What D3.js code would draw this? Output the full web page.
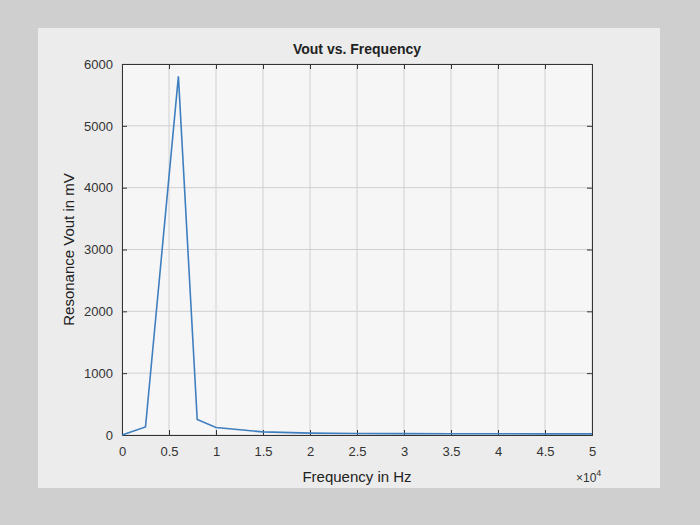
<!DOCTYPE html>
<html><head><meta charset="utf-8">
<script src="https://cdn.jsdelivr.net/npm/d3@7.9.0/dist/d3.min.js"></script>
<style>body{margin:0;background:#cfcfcf;font-family:"Liberation Sans",Arial,sans-serif}</style>
</head><body>
<svg id="chart" width="700" height="525"></svg>
<script>
const freq = [0, 2500, 6000, 8000, 10000, 15000, 20000, 25000, 30000, 35000, 40000, 45000, 50000];
const vout = [0, 130, 5800, 250, 120, 50, 30, 25, 22, 20, 20, 18, 18];
const xTicks = [0, 5000, 10000, 15000, 20000, 25000, 30000, 35000, 40000, 45000, 50000];
const xTickLabels = ["0", "0.5", "1", "1.5", "2", "2.5", "3", "3.5", "4", "4.5", "5"];
const yTicks = [0, 1000, 2000, 3000, 4000, 5000, 6000];

const svg = d3.select("#chart");
svg.append("rect").attr("x", 38).attr("y", 28).attr("width", 622).attr("height", 460).attr("fill", "#ececec");

const m = {left: 122, right: 592, top: 64, bottom: 435};
const x = d3.scaleLinear().domain([0, 50000]).range([m.left, m.right]);
const y = d3.scaleLinear().domain([0, 6000]).range([m.bottom, m.top]);

svg.append("rect").attr("x", m.left).attr("y", m.top)
  .attr("width", m.right - m.left).attr("height", m.bottom - m.top).attr("fill", "#f6f6f6");

// grid
svg.append("g").selectAll("line").data(xTicks).join("line")
  .attr("x1", d => x(d)).attr("x2", d => x(d)).attr("y1", m.top).attr("y2", m.bottom)
  .attr("stroke", "#d0d0d0");
svg.append("g").selectAll("line").data(yTicks).join("line")
  .attr("y1", d => y(d)).attr("y2", d => y(d)).attr("x1", m.left).attr("x2", m.right)
  .attr("stroke", "#d0d0d0");

svg.append("g").attr("transform", `translate(0,${m.bottom})`)
  .call(d3.axisBottom(x).tickValues(xTicks).tickFormat((d, i) => xTickLabels[i]).tickSize(-5).tickPadding(12));
svg.append("g").attr("transform", `translate(${m.left},0)`)
  .call(d3.axisLeft(y).tickValues(yTicks).tickFormat(d3.format("d")).tickSize(-5).tickPadding(9));
svg.append("g").attr("transform", `translate(0,${m.top})`)
  .call(d3.axisTop(x).tickValues(xTicks).tickFormat("").tickSize(-5));
svg.append("g").attr("transform", `translate(${m.right},0)`)
  .call(d3.axisRight(y).tickValues(yTicks).tickFormat("").tickSize(-5));
svg.selectAll(".domain, .tick line").attr("stroke", "#333");
svg.selectAll(".tick text").attr("font-size", 13).attr("fill", "#333").attr("font-family", "Liberation Sans, Arial");

svg.append("path").datum(freq.map((f, i) => [f, vout[i]]))
  .attr("fill", "none").attr("stroke", "#3f7fbf").attr("stroke-width", 1.6)
  .attr("d", d3.line().x(d => x(d[0])).y(d => y(d[1])));

svg.append("text").attr("x", (m.left + m.right) / 2).attr("y", 54).attr("text-anchor", "middle")
  .attr("font-size", 14).attr("font-weight", "bold").attr("fill", "#222").text("Vout vs. Frequency");
svg.append("text").attr("x", (m.left + m.right) / 2).attr("y", 482).attr("text-anchor", "middle")
  .attr("font-size", 15).attr("fill", "#222").text("Frequency in Hz");
svg.append("text").attr("transform", `translate(74,${(m.top + m.bottom) / 2}) rotate(-90)`)
  .attr("text-anchor", "middle").attr("font-size", 15).attr("fill", "#222").text("Resonance Vout in mV");
const mult = svg.append("text").attr("x", 576).attr("y", 482).attr("font-size", 12).attr("fill", "#333");
mult.append("tspan").text("×10");
mult.append("tspan").attr("dy", -6).attr("font-size", 9).text("4");
</script>
</body></html>
